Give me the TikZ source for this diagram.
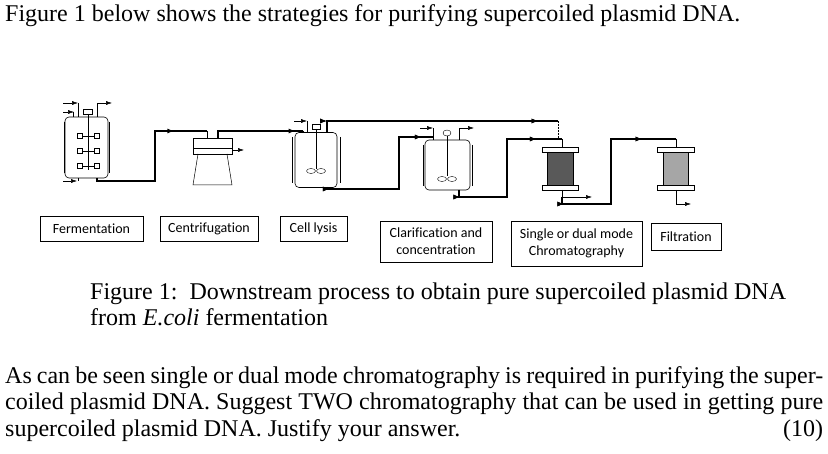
\documentclass[tikz,border=0pt]{standalone}
\usepackage{fontspec}
\setmainfont{Liberation Serif}
\newfontfamily\lab[Ligatures=NoCommon]{Carlito}
\usetikzlibrary{arrows.meta,decorations.markings}
\begin{document}
\begin{tikzpicture}[x=1pt,y=-1pt,
  tip/.style={-{Latex[length=6pt,width=4pt]}},
  pipe/.style={line width=0.5pt},
  thick pipe/.style={line width=1.4pt},
  mid/.style={postaction={decorate},decoration={markings,mark=at position #1 with {\arrow{Latex[length=7pt,width=5pt]}}}},
  lbl/.style={draw,line width=0.6pt,font=\lab\fontsize{14}{17}\selectfont,align=center,inner sep=3pt},
  vessel/.style={draw,line width=0.6pt,rounded corners=4pt}]
\useasboundingbox (0,0) rectangle (828,454);
\node[anchor=north west,inner sep=0,font=\fontsize{24}{26}\selectfont] (title) at (5,4) {Figure 1 below shows the strategies for purifying supercoiled plasmid DNA.};
% fermenter
\node[vessel,minimum width=43pt,minimum height=61pt] (ferm) at (86.5,147.5) {};
\draw[line width=0.5pt] (64,122) -- (64,173) (109,122) -- (109,173);
\draw (83,109) rectangle (92,114);
\draw (88,114) -- (88,170);
\foreach \y in {136,151,166}{\draw (77,\y-2.5) rectangle (82,\y+2.5) (94,\y-2.5) rectangle (99,\y+2.5) (82,\y) -- (94,\y);}
\draw[pipe,tip] (63,103) -- (78,103);
\draw[pipe] (78,103) -- (78,117);
\draw[pipe,tip] (63,112) -- (74,112);
\draw[pipe] (73,112) -- (73,117);
\draw[pipe,tip] (97,117) -- (97,103) -- (112,103);
\draw[pipe,tip] (63,181) -- (77,181);
\draw[pipe] (78,181) -- (78,178);
% centrifuge
\node[draw,line width=0.6pt,minimum width=39pt,minimum height=16pt] (cenhead) at (212.5,146) {};
\draw (193,148) -- (232,148);
\draw[line width=0.5pt] (198,154) -- (193,185) -- (232,185) -- (227,154);
\draw[pipe,tip] (232,150) -- (244,150);
% ferm -> centrifuge
\draw[thick pipe,mid=0.8] (97,178) -- (97,181) -- (155,181) -- (155,131) -- (207,131);
\draw[pipe] (207,131) -- (207,138);
% cell lysis
\node[vessel,minimum width=42pt,minimum height=55pt] (lysis) at (316,160) {};
\draw[line width=0.5pt] (292,137) -- (292,183) (340,137) -- (340,183);
\draw (312,124) rectangle (320,129);
\draw (316,129) -- (316,169);
\draw (311,171) ellipse (4.5 and 2.5) (321,171) ellipse (4.5 and 2.5);
\draw[thick pipe,mid=0.92] (218,138) -- (218,131) -- (303,131);
\draw[pipe] (303,131) -- (303,133);
\draw[pipe,tip] (294,121) -- (307,121);
\draw[pipe] (307,121) -- (307,133);
% long line to chromatography
\draw[thick pipe,mid=0.05,mid=0.92] (327,133) -- (327,121) -- (558,121);
\draw[pipe,densely dotted] (558,121) -- (558,140);
% lysis -> clarification
\draw[thick pipe,mid=0.03,mid=0.93] (327,187) -- (327,189) -- (399,189) -- (399,137) -- (433,137);
% clarification vessel
\node[vessel,minimum width=45pt,minimum height=50pt] (clar) at (447.5,165) {};
\draw[line width=0.5pt] (423,145) -- (423,186) (472,145) -- (472,186);
\draw (447,133) ellipse (4 and 3);
\draw (447,136) -- (447,176);
\draw (442,179) ellipse (4.5 and 2.5) (452,179) ellipse (4.5 and 2.5);
\draw[pipe,tip] (420,128) -- (433,128);
\draw[pipe] (433,128) -- (433,140);
\draw[pipe,tip] (459,140) -- (459,128) -- (474,128);
\draw[thick pipe,mid=0.05,mid=0.85] (459,190) -- (459,197) -- (507,197) -- (507,139) -- (562,139);
\draw[pipe] (562,139) -- (562,147);
% column 1
\node[draw,line width=0.6pt,fill=white,minimum width=36pt,minimum height=5pt,inner sep=0] (c1top) at (560,149.5) {};
\node[draw,line width=0.6pt,fill=black!65,minimum width=26pt,minimum height=33pt,inner sep=0] (c1) at (560,168.5) {};
\node[draw,line width=0.6pt,fill=white,minimum width=36pt,minimum height=5pt,inner sep=0] (c1bot) at (560,187.5) {};
\draw[pipe,tip] (562,190) -- (562,197) -- (592,197);
\draw[thick pipe,mid=0.05,mid=0.82] (562,197) -- (562,204) -- (611,204) -- (611,139) -- (676,139);
\draw[pipe] (676,139) -- (676,147);
% column 2
\node[draw,line width=0.6pt,fill=white,minimum width=37pt,minimum height=5pt,inner sep=0] (c2top) at (675.5,149.5) {};
\node[draw,line width=0.6pt,fill=black!35,minimum width=25pt,minimum height=33pt,inner sep=0] (c2) at (675.5,168.5) {};
\node[draw,line width=0.6pt,fill=white,minimum width=37pt,minimum height=5pt,inner sep=0] (c2bot) at (675.5,187.5) {};
\draw[pipe,tip] (676,190) -- (676,204) -- (691,204);
% labels
\node[lbl,minimum width=103pt,minimum height=25pt] (l1) at (91.5,229) {Fermentation};
\node[lbl,minimum width=98pt,minimum height=25pt] (l2) at (209,229) {Centrifugation};
\node[lbl,minimum width=67pt,minimum height=25pt] (l3) at (313.5,229) {Cell lysis};
\node[lbl,minimum width=112pt,minimum height=41pt] (l4) at (436,241.5) {Clarification and\\concentration};
\node[lbl,minimum width=131pt,minimum height=45pt] (l5) at (576.5,243.5) {Single or dual mode\\Chromatography};
\node[lbl,minimum width=70pt,minimum height=27pt] (l6) at (686,237) {Filtration};
% caption
\node[anchor=north west,inner sep=0,align=left,font=\fontsize{24}{26}\selectfont] (cap) at (90,283) {Figure 1:\ \ Downstream process to obtain pure supercoiled plasmid DNA\\from \textit{E.coli} fermentation};
\node[anchor=north west,inner sep=0,text width=818pt,align=justify,font=\fontsize{24}{26.5}\selectfont] (q) at (5,366) {\hyphenpenalty=10000\exhyphenpenalty=10000 As can be seen single or dual mode chromatography is required in purifying the supercoiled plasmid DNA. Suggest TWO chromatography that can be used in getting pure supercoiled plasmid DNA. Justify your answer.\hfill(10)\hspace*{5pt}};
\end{tikzpicture}
\end{document}
